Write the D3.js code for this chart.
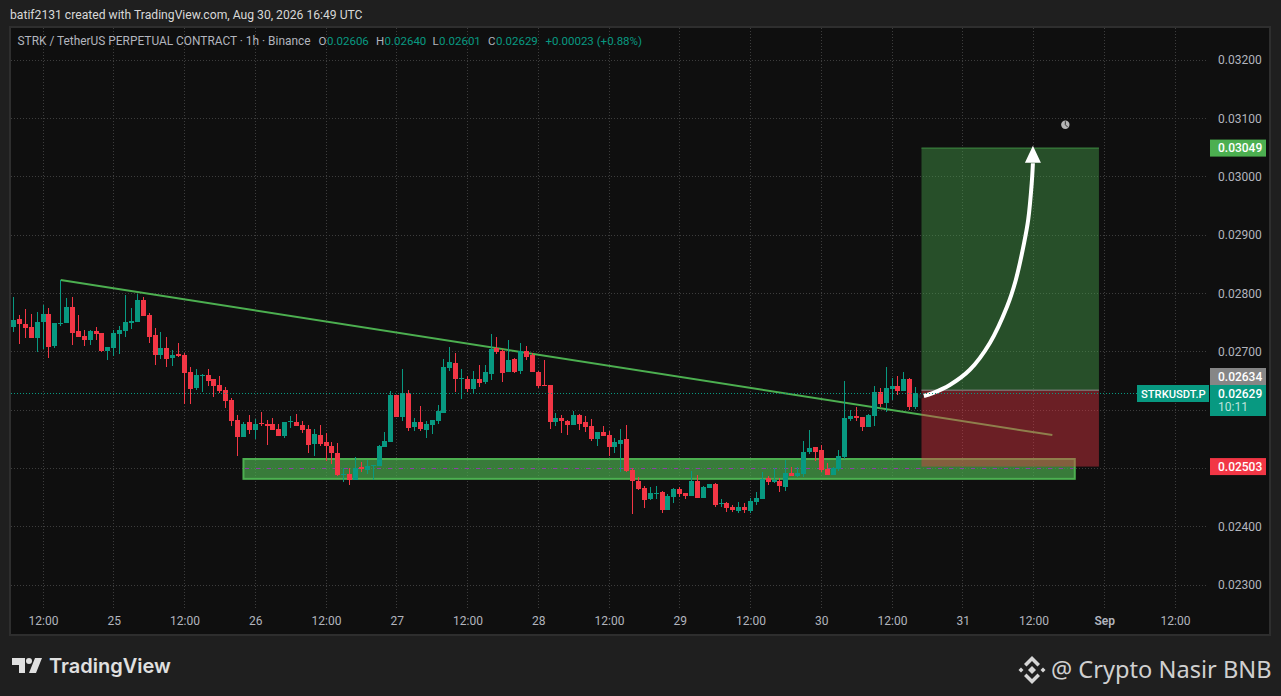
<!DOCTYPE html>
<html>
<head>
<meta charset="utf-8">
<title>STRKUSDT.P</title>
<script src="https://cdn.jsdelivr.net/npm/d3@7"></script>
<style>
  html, body { margin: 0; padding: 0; background: #1f1f1f; overflow: hidden; }
  svg { display: block; font-family: Roboto, sans-serif; }
</style>
</head>
<body>
<svg id="chart" width="1281" height="696"></svg>
<script>
// prices are in 0.00001 units, one candle per hour
const TICK = 0.00001;
const firstCandle = Date.UTC(2026, 7, 24, 7);
const HOUR = 3600000;

const opens = [
  2742,2756,2747,2742,2723,2751,2765,2710,2747,2749,
  2777,2735,2727,2720,2735,2732,2701,2706,2730,2735,
  2749,2751,2789,2763,2729,2694,2706,2689,2696,2694,
  2665,2638,2658,2660,2653,2643,2634,2617,2583,2554,
  2579,2566,2578,2576,2576,2567,2555,2579,2579,2574,
  2567,2542,2557,2545,2538,2526,2489,2490,2480,2502,
  2497,2504,2504,2537,2545,2626,2588,2629,2571,2579,
  2566,2574,2581,2595,2672,2681,2653,2653,2636,2653,
  2648,2662,2706,2701,2665,2687,2667,2701,2694,2665,
  2643,2643,2579,2586,2581,2574,2591,2579,2573,2550,
  2562,2557,2537,2542,2550,2497,2478,2466,2447,2456,
  2459,2429,2451,2465,2458,2453,2478,2449,2466,2473,
  2439,2441,2434,2427,2434,2427,2442,2447,2483,2477,
  2478,2468,2492,2487,2490,2528,2537,2531,2499,2489,
  2499,2519,2585,2590,2588,2571,2590,2631,2612,2636,
  2641,2633,2653,2606
];
const highs = [
  2793,2763,2773,2765,2768,2780,2775,2749,2823,2792,
  2793,2763,2737,2737,2742,2732,2708,2738,2744,2797,
  2775,2799,2793,2766,2741,2734,2725,2703,2715,2697,
  2674,2670,2662,2670,2653,2658,2639,2621,2591,2579,
  2591,2584,2597,2583,2586,2576,2579,2590,2593,2581,
  2574,2567,2574,2561,2545,2543,2501,2500,2519,2511,
  2514,2506,2540,2562,2633,2626,2670,2634,2586,2607,
  2581,2583,2609,2687,2708,2698,2670,2658,2667,2677,
  2677,2730,2725,2705,2720,2689,2715,2710,2698,2667,
  2686,2643,2595,2591,2583,2598,2593,2590,2585,2562,
  2573,2564,2552,2567,2574,2501,2485,2470,2468,2470,
  2461,2456,2466,2468,2458,2495,2489,2470,2473,2475,
  2447,2442,2437,2442,2441,2449,2459,2494,2487,2501,
  2483,2514,2502,2502,2547,2566,2537,2540,2509,2502,
  2531,2650,2600,2605,2588,2593,2641,2638,2674,2655,
  2658,2665,2655,2640
];
const lows = [
  2734,2713,2723,2723,2699,2705,2689,2707,2744,2749,
  2711,2725,2710,2711,2720,2699,2686,2693,2696,2725,
  2739,2751,2761,2715,2677,2687,2674,2675,2691,2610,
  2610,2634,2631,2641,2622,2629,2603,2573,2521,2554,
  2559,2550,2573,2540,2566,2555,2552,2569,2573,2561,
  2526,2521,2538,2513,2507,2487,2477,2471,2480,2494,
  2490,2480,2504,2537,2545,2588,2581,2564,2564,2564,
  2552,2559,2576,2595,2667,2631,2619,2631,2629,2639,
  2645,2651,2696,2648,2665,2663,2662,2686,2665,2638,
  2641,2567,2573,2561,2557,2574,2566,2562,2547,2538,
  2555,2521,2526,2494,2494,2422,2463,2432,2446,2447,
  2423,2429,2441,2451,2447,2453,2449,2449,2466,2434,
  2434,2425,2425,2423,2423,2423,2437,2447,2471,2475,
  2459,2461,2487,2485,2485,2525,2513,2494,2489,2489,
  2495,2516,2581,2581,2564,2571,2573,2605,2597,2617,
  2626,2633,2600,2601
];
const closes = [
  2754,2747,2741,2723,2751,2765,2708,2749,2749,2777,
  2732,2725,2720,2735,2730,2701,2708,2732,2737,2751,
  2753,2789,2761,2725,2694,2706,2687,2694,2693,2663,
  2636,2660,2660,2650,2641,2633,2615,2581,2554,2576,
  2566,2576,2576,2573,2566,2555,2579,2581,2573,2566,
  2540,2559,2542,2538,2526,2489,2491,2480,2501,2499,
  2504,2506,2538,2547,2626,2588,2629,2569,2579,2567,
  2576,2583,2598,2674,2682,2653,2655,2636,2653,2646,
  2665,2705,2699,2663,2686,2665,2701,2691,2665,2641,
  2641,2579,2586,2581,2574,2591,2576,2571,2550,2562,
  2555,2537,2545,2549,2495,2478,2465,2446,2458,2458,
  2429,2453,2465,2456,2453,2478,2449,2468,2473,2437,
  2441,2432,2429,2434,2429,2444,2449,2482,2477,2480,
  2470,2492,2487,2492,2528,2535,2528,2497,2489,2501,
  2521,2586,2590,2586,2571,2591,2631,2610,2638,2641,
  2633,2653,2605,2629
];

const gridPrices = [3200,3100,3000,2900,2800,2700,2600,2500,2400,2300];
const priceLabels = [3200,3100,3000,2900,2800,2700,2400,2300];
const timeTicks = [
  '2026-08-24T12:00Z','2026-08-25T00:00Z','2026-08-25T12:00Z','2026-08-26T00:00Z',
  '2026-08-26T12:00Z','2026-08-27T00:00Z','2026-08-27T12:00Z','2026-08-28T00:00Z',
  '2026-08-28T12:00Z','2026-08-29T00:00Z','2026-08-29T12:00Z','2026-08-30T00:00Z',
  '2026-08-30T12:00Z','2026-08-31T00:00Z','2026-08-31T12:00Z','2026-09-01T00:00Z',
  '2026-09-01T12:00Z'
].map(d => new Date(d));
const timeLabels = ['12:00','25','12:00','26','12:00','27','12:00','28','12:00','29','12:00','30','12:00','31','12:00','Sep','12:00'];

// drawings, as hours after the first candle and prices
const trendHours = [8, 176.2];
const trendPrices = [2823, 2557];
const zoneHours = [39, 180];
const zonePrices = [2516, 2482];
const zoneMidPrice = 2499;
const positionHours = [154, 184.1];
const targetPrice = 3049, entryPrice = 2634, stopPrice = 2503;
const arrowHours = [154.4, 155.9, 158.8, 162.2, 165.6, 168.5, 170.0, 171.4, 172.1, 172.7, 172.9];
const arrowPrices = [2624, 2629, 2643, 2669, 2715, 2777, 2823, 2886, 2926, 2989, 3023];
const arrowTip = [172.9, 3053];
const clockPoint = [178.4, 3089];

const legendParts = [
  { x: 318.5, text: 'O', up: false }, { x: 327, text: '0.02606', up: true },
  { x: 376, text: 'H', up: false }, { x: 384.5, text: '0.02640', up: true },
  { x: 432.5, text: 'L', up: false }, { x: 439, text: '0.02601', up: true },
  { x: 488, text: 'C', up: false }, { x: 496, text: '0.02629', up: true },
  { x: 545.5, text: '+0.00023 (+0.88%)', up: true }
];

const UP = '#089981', DOWN = '#f23645', AXIS_TEXT = '#b2b5be';

const svg = d3.select('#chart');

const x = d3.scaleUtc()
  .domain([timeTicks[0], timeTicks[timeTicks.length - 1]])
  .range([43, 1175]);
const y = d3.scaleLinear()
  .domain([2300, 3200])
  .range([585, 60]);
const xh = h => x(new Date(firstCandle + h * HOUR));

// Pane
svg.append('rect').attr('x', 10).attr('y', 27).attr('width', 1260).attr('height', 608)
  .attr('fill', '#0f0f0f').attr('stroke', '#2e2e2e').attr('stroke-width', 2);

svg.append('text').attr('x', 10).attr('y', 19).attr('fill', '#d8d8d8')
  .attr('font-size', 12.15).text('batif2131 created with TradingView.com, Aug 30, 2026 16:49 UTC');

// Grid
const grid = svg.append('g').attr('shape-rendering', 'crispEdges')
  .attr('stroke', '#3d3d3d').attr('stroke-dasharray', '1 2');
grid.selectAll('.h').data(gridPrices).join('line').attr('class', 'h')
  .attr('x1', 11).attr('x2', 1208).attr('y1', d => y(d)).attr('y2', d => y(d));
grid.selectAll('.v').data(timeTicks).join('line').attr('class', 'v')
  .attr('x1', d => x(d)).attr('x2', d => x(d)).attr('y1', 28).attr('y2', 608);

// Support zone
svg.append('rect')
  .attr('x', xh(zoneHours[0])).attr('y', y(zonePrices[0]))
  .attr('width', xh(zoneHours[1]) - xh(zoneHours[0]))
  .attr('height', y(zonePrices[1]) - y(zonePrices[0]))
  .attr('fill', 'rgba(76,175,80,0.68)').attr('stroke', '#4caf50').attr('stroke-width', 2);
svg.append('line')
  .attr('x1', xh(zoneHours[0]) + 2).attr('x2', xh(zoneHours[1]) - 2)
  .attr('y1', y(zoneMidPrice)).attr('y2', y(zoneMidPrice))
  .attr('stroke', '#8e3fa8').attr('stroke-dasharray', '4 7').attr('stroke-width', 1)
  .attr('shape-rendering', 'crispEdges');

// Trend line
svg.append('line')
  .attr('x1', xh(trendHours[0])).attr('y1', y(trendPrices[0]))
  .attr('x2', xh(trendHours[1])).attr('y2', y(trendPrices[1]))
  .attr('stroke', '#4caf50').attr('stroke-width', 2);

// Candles
const candles = svg.append('g').selectAll('g')
  .data(opens.map((o, i) => ({ i, o, h: highs[i], l: lows[i], c: closes[i] })))
  .join('g')
  .attr('shape-rendering', 'crispEdges')
  .attr('fill', d => d.c >= d.o ? UP : DOWN);
candles.append('rect')
  .attr('x', d => Math.floor(xh(d.i))).attr('width', 1)
  .attr('y', d => y(d.h)).attr('height', d => y(d.l) - y(d.h));
candles.append('rect')
  .attr('x', d => Math.floor(xh(d.i)) - 2).attr('width', 5)
  .attr('y', d => y(Math.max(d.o, d.c)))
  .attr('height', d => Math.max(1, Math.abs(y(d.o) - y(d.c))));

// Long position
const posX = xh(positionHours[0]), posW = xh(positionHours[1]) - posX;
svg.append('rect').attr('x', posX).attr('width', posW)
  .attr('y', y(targetPrice)).attr('height', y(entryPrice) - y(targetPrice))
  .attr('fill', 'rgba(76,175,80,0.4)');
svg.append('rect').attr('x', posX).attr('width', posW)
  .attr('y', y(entryPrice)).attr('height', y(stopPrice) - y(entryPrice))
  .attr('fill', 'rgba(244,54,69,0.4)');
svg.append('line').attr('x1', posX).attr('x2', posX + posW)
  .attr('y1', y(entryPrice)).attr('y2', y(entryPrice))
  .attr('stroke', '#8a8a8a').attr('stroke-width', 1);
svg.append('line').attr('x1', posX).attr('x2', posX + posW)
  .attr('y1', y(targetPrice)).attr('y2', y(targetPrice))
  .attr('stroke', '#3f8f43').attr('stroke-width', 1);

// Arrow
const arrowLine = d3.line()
  .x(d => xh(d))
  .y((d, i) => y(arrowPrices[i]))
  .curve(d3.curveCatmullRom);
svg.append('path').attr('d', arrowLine(arrowHours))
  .attr('fill', 'none').attr('stroke', '#fff').attr('stroke-width', 4);
const tipX = xh(arrowTip[0]), tipY = y(arrowTip[1]);
svg.append('path').attr('d', `M${tipX},${tipY}L${tipX + 8},${tipY + 17}L${tipX - 8},${tipY + 17}Z`).attr('fill', '#fff');
svg.append('circle').attr('cx', xh(arrowHours[0]) - 3).attr('cy', y(arrowPrices[0])).attr('r', 2.5).attr('fill', '#222');

// Clock mark
svg.append('circle').attr('cx', xh(clockPoint[0])).attr('cy', y(clockPoint[1])).attr('r', 4.2).attr('fill', '#b5b5b5');
svg.append('path')
  .attr('d', `M${xh(clockPoint[0])},${y(clockPoint[1]) - 3.5}v3.5l2.5,2.5`)
  .attr('fill', 'none').attr('stroke', '#333').attr('stroke-width', 1);

// Last price line
const lastClose = closes[closes.length - 1];
svg.append('line').attr('x1', 11).attr('x2', 1208)
  .attr('y1', y(lastClose)).attr('y2', y(lastClose))
  .attr('stroke', UP).attr('stroke-dasharray', '1 2')
  .attr('shape-rendering', 'crispEdges');

// Axes
const priceAxis = svg.append('g')
  .attr('transform', 'translate(1218,0)')
  .call(d3.axisRight(y).tickValues(priceLabels).tickSize(0).tickPadding(0)
    .tickFormat(d => d3.format('.5f')(d * TICK)));
priceAxis.select('.domain').remove();
priceAxis.selectAll('text').attr('fill', AXIS_TEXT).attr('font-size', 12).attr('font-family', 'Roboto, sans-serif');

const timeAxis = svg.append('g')
  .attr('transform', 'translate(0,616)')
  .call(d3.axisBottom(x).tickValues(timeTicks).tickSize(0).tickPadding(0)
    .tickFormat((d, i) => timeLabels[i]));
timeAxis.select('.domain').remove();
timeAxis.selectAll('text').attr('fill', AXIS_TEXT).attr('font-size', 12).attr('font-family', 'Roboto, sans-serif')
  .attr('font-weight', (d, i) => timeLabels[i] === 'Sep' ? 600 : 400);

// Price tags
function priceTag(price, yCenter, fill, color) {
  svg.append('rect').attr('x', 1210).attr('y', yCenter - 8.5).attr('width', 56).attr('height', 17).attr('fill', fill);
  svg.append('text').attr('x', 1218).attr('y', yCenter + 4.2).attr('fill', color)
    .attr('font-size', 12).attr('font-weight', 500).text(d3.format('.5f')(price * TICK));
}
priceTag(targetPrice, y(targetPrice), '#4caf50', '#fff');
priceTag(entryPrice, 376.5, '#868686', '#fff');
priceTag(stopPrice, y(stopPrice), '#f23645', '#fff');

svg.append('rect').attr('x', 1210).attr('y', 385).attr('width', 56).attr('height', 31).attr('fill', UP);
svg.append('text').attr('x', 1218).attr('y', 397.5).attr('fill', '#fff').attr('font-size', 12).attr('font-weight', 500)
  .text(d3.format('.5f')(lastClose * TICK));
svg.append('text').attr('x', 1218).attr('y', 411).attr('fill', '#bfe3dc').attr('font-size', 12).text('10:11');
svg.append('rect').attr('x', 1137).attr('y', 385).attr('width', 72).attr('height', 17).attr('fill', UP);
svg.append('text').attr('x', 1141).attr('y', 397.5).attr('fill', '#fff').attr('font-size', 11.2).attr('font-weight', 500).text('STRKUSDT.P');

// Legend
svg.append('text').attr('x', 17.5).attr('y', 45).attr('fill', AXIS_TEXT).attr('font-size', 11.9)
  .text('STRK / TetherUS PERPETUAL CONTRACT · 1h · Binance');
svg.selectAll('.legend').data(legendParts).join('text').attr('class', 'legend')
  .attr('x', d => d.x).attr('y', 45).attr('font-size', 11.5)
  .attr('fill', d => d.up ? UP : AXIS_TEXT).text(d => d.text);

// TradingView logo
const logo = svg.append('g').attr('fill', '#e0e0e0');
logo.append('path').attr('d', 'M12,658H25V673H19V665H12Z');
logo.append('circle').attr('cx', 29).attr('cy', 661).attr('r', 3);
logo.append('path').attr('d', 'M35,658H42L36,673H29Z');
svg.append('text').attr('x', 49).attr('y', 673).attr('fill', '#e0e0e0')
  .attr('font-family', 'Inter, sans-serif').attr('font-size', 20).attr('font-weight', 600).text('TradingView');

// Watermark
const mark = svg.append('g').attr('fill', '#d6d6d6').attr('transform', 'translate(1032,670)');
mark.append('path').attr('d', 'M0,-4L4,0L0,4L-4,0Z');
mark.append('path').attr('d', 'M-11,-2.5L-8.5,0L-11,2.5L-13.5,0Z');
mark.append('path').attr('d', 'M11,-2.5L13.5,0L11,2.5L8.5,0Z');
mark.append('path').attr('d', 'M0,-14L8,-6L5.5,-3.5L0,-9L-5.5,-3.5L-8,-6Z');
mark.append('path').attr('d', 'M0,14L8,6L5.5,3.5L0,9L-5.5,3.5L-8,6Z');
svg.append('text').attr('x', 1051).attr('y', 678).attr('fill', '#d0d0d0')
  .attr('font-family', '"Noto Sans", sans-serif').attr('font-size', 23.6).text('@ Crypto Nasir BNB');
</script>
</body>
</html>
